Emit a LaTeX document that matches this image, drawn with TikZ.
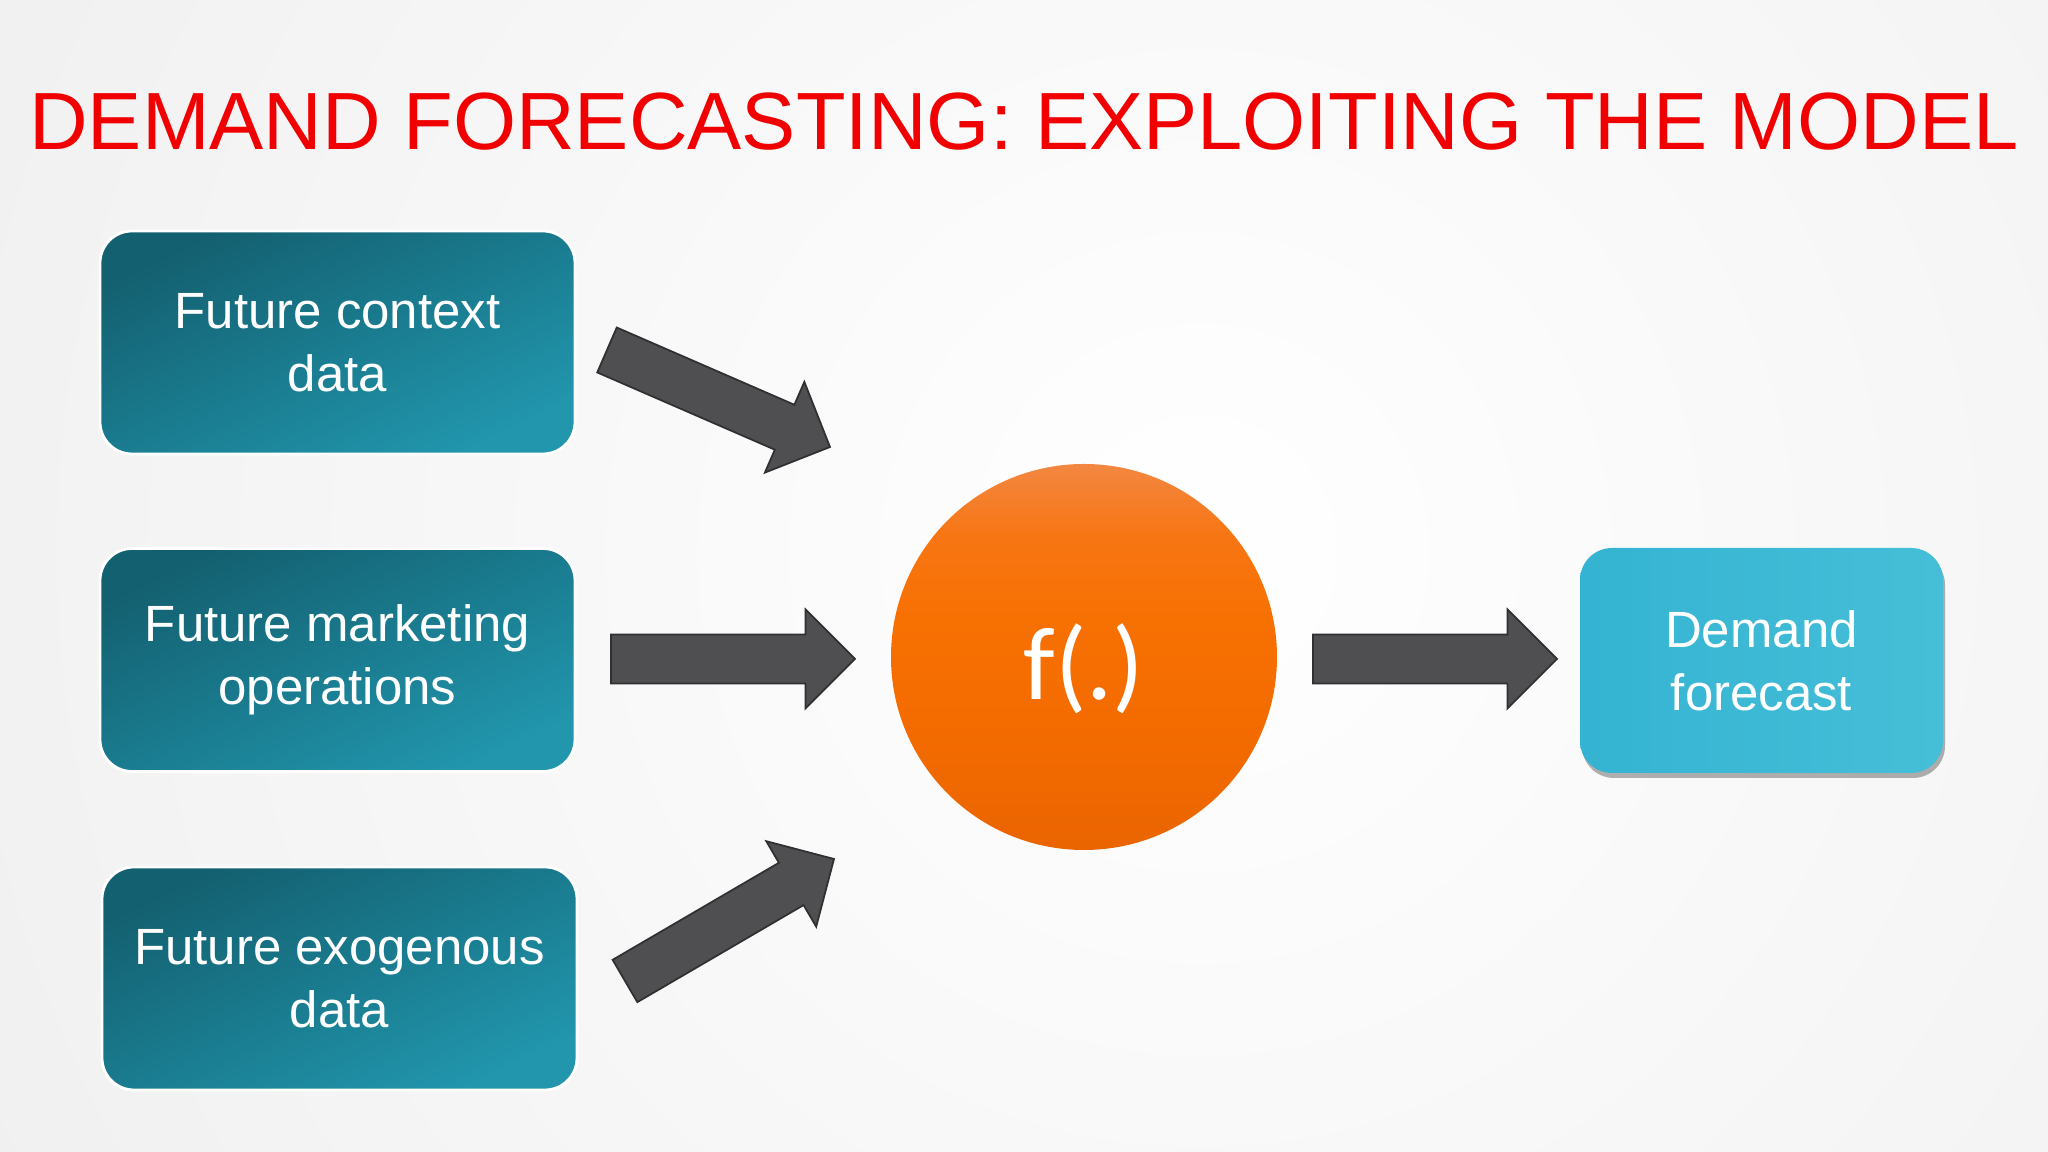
\documentclass[tikz,border=0pt]{standalone}
\usepackage{fontspec}
\setmainfont{Liberation Sans}
\newfontfamily\calfont{Carlito}
\usetikzlibrary{calc,shadows}
\definecolor{titlered}{RGB}{240,0,0}
\definecolor{tealdark}{RGB}{19,96,112}
\definecolor{teallight}{RGB}{33,150,173}
\definecolor{skyblue}{RGB}{52,180,210}
\definecolor{skylight}{RGB}{70,190,216}
\definecolor{orangetop}{RGB}{243,135,66}
\definecolor{orangeup}{RGB}{247,118,20}
\definecolor{orangemid}{RGB}{247,112,2}
\definecolor{orangelow}{RGB}{244,108,0}
\definecolor{orangebot}{RGB}{234,100,0}
\definecolor{arrowgray}{RGB}{79,78,81}
\definecolor{arrowedge}{RGB}{48,48,50}
\pgfdeclareverticalshading{orb}{100bp}{color(0bp)=(orangebot); color(25bp)=(orangebot); color(42bp)=(orangelow);
	color(55bp)=(orangemid); color(66bp)=(orangeup); color(75bp)=(orangetop); color(100bp)=(orangetop)}
\newcommand\fatarrow[2]{%
	\coordinate (neck) at ($(#2)!0.495cm!(#1)$);
	\draw[blockarrow] ($(#1)!0.245cm!90:(#2)$) -- ($(neck)!0.245cm!-90:(#1)$) -- ($(neck)!0.495cm!-90:(#1)$) -- (#2)
		-- ($(neck)!0.495cm!90:(#1)$) -- ($(neck)!0.245cm!90:(#1)$) -- ($(#1)!0.245cm!-90:(#2)$) -- cycle;}

\begin{document}
\begin{tikzpicture}[
		inbox/.style={rounded corners=0.32cm, draw=white, line width=0.8pt, top color=tealdark, bottom color=teallight, shading angle=25,
			text=white, align=center, minimum width=4.75cm, minimum height=2.23cm, font=\fontsize{14.5}{18}\selectfont},
		outbox/.style={rounded corners=0.32cm, left color=skyblue, right color=skylight, text=white, align=center,
			minimum width=3.63cm, minimum height=2.25cm, font=\fontsize{14.5}{18}\selectfont,
			drop shadow={shadow xshift=0.02cm, shadow yshift=-0.05cm, fill=black, opacity=0.3}},
		blockarrow/.style={fill=arrowgray, draw=arrowedge, line width=0.5pt, line join=miter}]
				\useasboundingbox (0,0) rectangle (20.48,11.52);
				\begin{scope}
					\clip (0,0) rectangle (20.48,11.52);
					\shade[inner color=white, outer color=black!12] (12,6) circle (28);
				\end{scope}
				\node[anchor=base, text=titlered, font=\fontsize{23.1}{27}\selectfont] (title) at (10.24,10.02) {DEMAND FORECASTING: EXPLOITING THE MODEL};
				\node[inbox] (ctx) at (3.375,8.095) {Future context\\data};
				\node[inbox] (mkt) at (3.375,4.92) {Future marketing\\operations};
				\node[inbox] (exo) at (3.395,1.735) {Future exogenous\\data};
				\node[circle, inner sep=0pt, minimum size=3.86cm, shading=orb,
					label={[text=white, font=\calfont\fontsize{29.5}{34}\selectfont, yshift=-0.12cm]center:f(.)}] (model) at (10.84,4.95) {};
				\node[outbox] (fcst) at (17.615,4.915) {Demand\\forecast};
				\coordinate (t1) at (6.07,8.02);
				\coordinate (h1) at (8.30,7.05);
				\coordinate (t2) at (6.11,4.93);
				\coordinate (h2) at (8.55,4.93);
				\coordinate (t3) at (6.25,1.71);
				\coordinate (h3) at (8.34,2.93);
				\coordinate (t4) at (13.13,4.93);
				\coordinate (h4) at (15.57,4.93);
				\fatarrow{t1}{h1}
				\fatarrow{t2}{h2}
				\fatarrow{t3}{h3}
				\fatarrow{t4}{h4}
		\end{tikzpicture}
\end{document}
